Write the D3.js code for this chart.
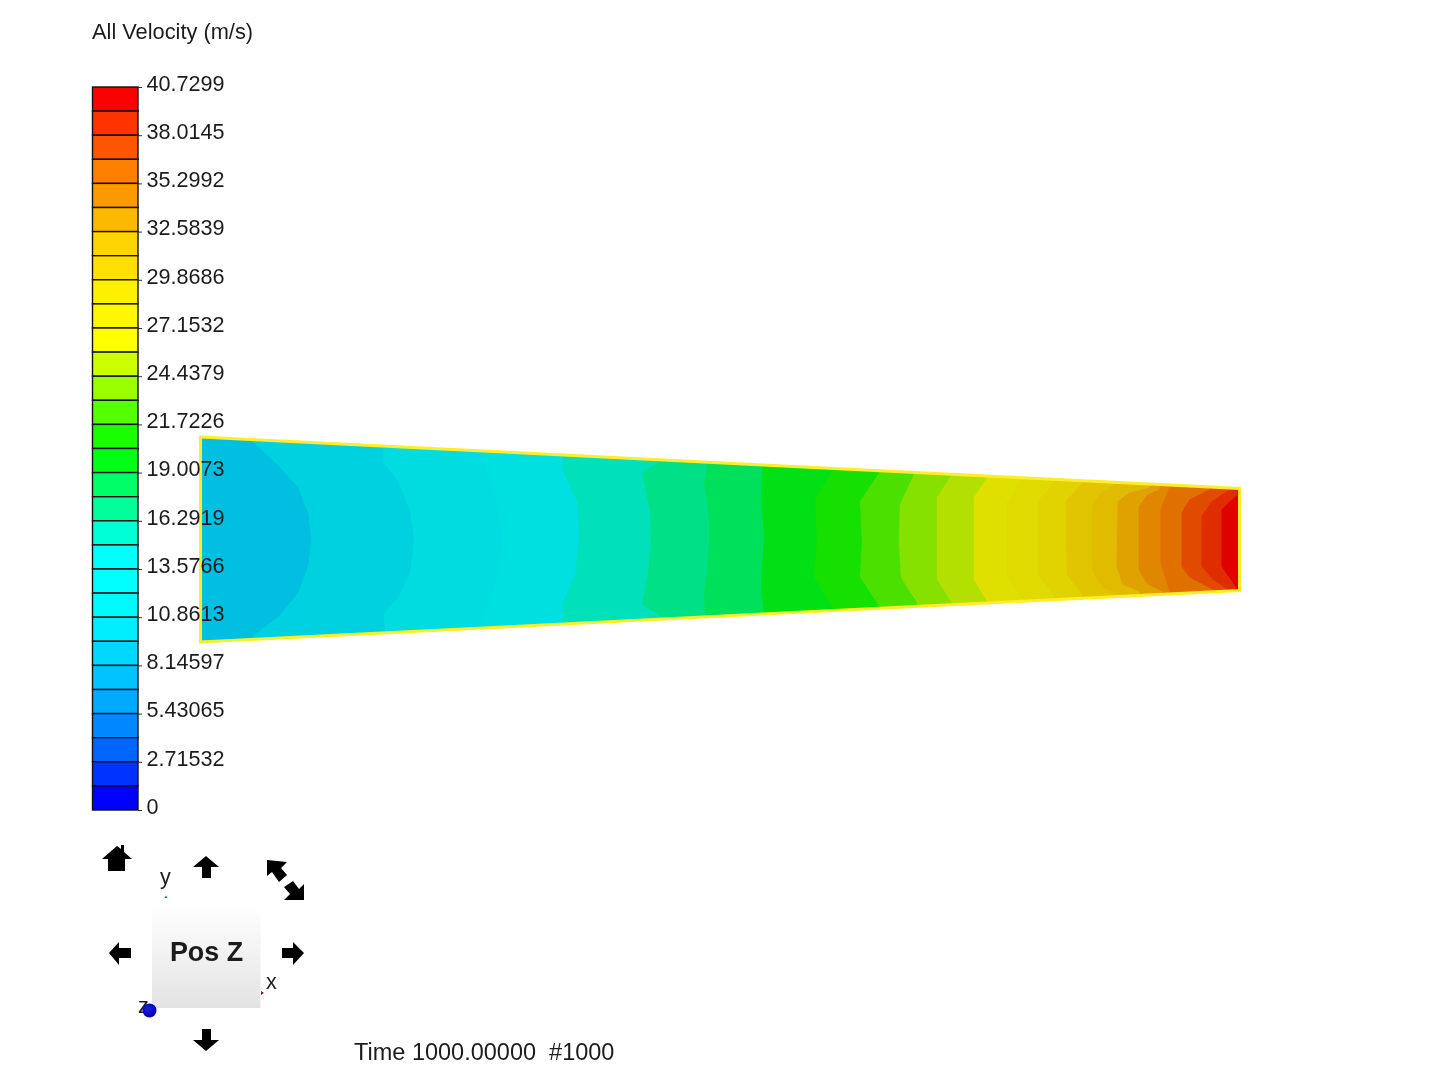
<!DOCTYPE html>
<html>
<head>
<meta charset="utf-8">
<style>
  html, body { margin: 0; padding: 0; background: #fff; }
  svg { display: block; filter: blur(0.4px); }
  text { font-family: "Liberation Sans", Arial, sans-serif; fill: #1c1c1c; }
</style>
<script src="https://cdn.jsdelivr.net/npm/d3@7"></script>
</head>
<body>
<svg id="chart" width="1440" height="1080" viewBox="0 0 1440 1080"></svg>
<script>
var TITLE = 'All Velocity (m/s)';
var TIME_LABEL = 'Time 1000.00000\u00a0\u00a0#1000';
var MAX_VELOCITY = 40.7299;

// tick labels, top to bottom
var tickLabels = ['40.7299', '38.0145', '35.2992', '32.5839', '29.8686', '27.1532', '24.4379', '21.7226',
  '19.0073', '16.2919', '13.5766', '10.8613', '8.14597', '5.43065', '2.71532', '0'];

// colour bar, top band first
var bandColors = ['#ff0000', '#ff3300', '#ff5500', '#ff8000', '#ff9900', '#ffb800', '#ffd500', '#ffe000',
  '#fff000', '#fff800', '#ffff00', '#ccff00', '#99ff00', '#55ff00', '#18ff00', '#00ff18',
  '#00ff66', '#00ff99', '#00ffd5', '#00ffff', '#00ffff', '#00fbff', '#00eeff', '#00d9ff',
  '#00c3ff', '#00aaff', '#0088ff', '#0066ff', '#0033ff', '#0000ff'];

// model outline (x along the duct, y across it)
var outline = [[0, 102.5], [1040, 51], [1040, -51], [0, -102.5]];

// which colour bar band fills each contour region, inlet to outlet
var regionBands = [23, 22, 21, 19, 18, 17, 16, 15, 14, 13, 12, 11, 10, 9, 8, 7, 6, 5, 4, 3, 2, 1, 0];

// contour lines between the regions, upper wall to lower wall
var contours = [
  [[52, 98], [77, 75], [98, 52], [108, 25], [111, 0], [108, -25], [98, -53], [78, -77], [52, -97]],
  [[183, 93], [183, 77], [198, 58], [210, 28], [214, 0], [210, -32], [198, -58], [183, -75], [185, -92]],
  [[280, 87], [295, 48], [302, 0], [295, -42], [280, -85]],
  [[362, 83], [363, 68], [377, 38], [379, 2], [375, -35], [363, -62], [363, -82]],
  [[458, 77], [442, 67], [450, 28], [451, -2], [448, -32], [442, -65], [462, -78]],
  [[508, 77], [504, 57], [509, 22], [509, -5], [507, -32], [504, -55], [505, -77]],
  [[563, 73], [561, 48], [564, 2], [561, -48], [564, -73]],
  [[633, 70], [615, 40], [617, -2], [614, -38], [633, -68]],
  [[680, 68], [660, 38], [662, -2], [660, -37], [680, -68]],
  [[715, 67], [700, 35], [699, -2], [701, -38], [717, -63]],
  [[752, 65], [737, 42], [737, -40], [752, -63]],
  [[788, 63], [774, 42], [774, -40], [788, -63]],
  [[822, 60], [807, 37], [807, -35], [822, -60]],
  [[855, 58], [838, 38], [838, -35], [855, -57]],
  [[882, 56], [866, 38], [867, -35], [882, -55]],
  [[917, 56], [903, 48], [893, 37], [893, -33], [903, -48], [918, -55]],
  [[950, 52], [930, 47], [918, 38], [917, -27], [923, -45], [940, -52]],
  [[960, 50], [948, 45], [939, 33], [939, -30], [948, -45], [963, -52]],
  [[970, 53], [961, 30], [961, -23], [970, -53]],
  [[1010, 50], [990, 40], [982, 27], [982, -27], [990, -38], [1017, -52]],
  [[1033, 52], [1012, 38], [1002, 23], [1002, -27], [1013, -40], [1028, -50]],
  [[1038, 45], [1022, 30], [1022, -27], [1038, -50]]
];

var svg = d3.select('#chart');
var defs = svg.append('defs');

// ---------- field ----------
var SHADE = 0.878;
var x = d3.scaleLinear().domain([0, 1040]).range([200.5, 1239.5]);
var y = d3.scaleLinear().domain([-102.5, 102.5]).range([642, 437]);
var line = d3.line().x(function (d) { return x(d[0]); }).y(function (d) { return y(d[1]); });
function shaded(hex) {
  var c = d3.rgb(hex);
  return d3.rgb(c.r * SHADE, c.g * SHADE, c.b * SHADE).formatHex();
}

defs.append('clipPath').attr('id', 'field-clip').append('path').attr('d', line(outline) + 'Z');
defs.append('filter').attr('id', 'soft').append('feGaussianBlur').attr('stdDeviation', 0.5);

var gField = svg.append('g').attr('clip-path', 'url(#field-clip)');
gField.append('path').attr('d', line(outline) + 'Z').attr('fill', shaded(bandColors[regionBands[0]]));
gField.selectAll('path.region').data(contours).join('path').attr('class', 'region')
  .attr('d', function (c) {
    var first = c[0], last = c[c.length - 1];
    return line(c.concat([[last[0], -200], [1100, -200], [1100, 200], [first[0], 200]])) + 'Z';
  })
  .attr('fill', function (c, i) { return shaded(bandColors[regionBands[i + 1]]); })
  .attr('stroke', 'none');
svg.append('path').attr('d', line(outline) + 'Z').attr('fill', 'none').attr('stroke', '#ffec2a')
  .attr('stroke-width', 3).attr('stroke-linejoin', 'miter').attr('filter', 'url(#soft)');

// ---------- colour bar ----------
var barX = 92.5, barW = 45.5;
var barY = d3.scaleLinear().domain([0, MAX_VELOCITY]).range([810, 87]);
var bandH = (barY(0) - barY(MAX_VELOCITY)) / bandColors.length;
var gBar = svg.append('g');
gBar.selectAll('rect').data(bandColors).join('rect')
  .attr('x', barX).attr('y', function (d, i) { return barY(MAX_VELOCITY) + i * bandH; })
  .attr('width', barW).attr('height', bandH)
  .attr('fill', function (d) { return d; }).attr('stroke', '#111').attr('stroke-width', 1.4);

var tickValues = tickLabels.map(Number);
var axis = d3.axisRight(barY).tickValues(tickValues).tickSize(4).tickPadding(4.5)
  .tickFormat(function (d, i) { return tickLabels[i]; });
var gAxis = svg.append('g').attr('transform', 'translate(' + (barX + barW) + ',0)').call(axis);
gAxis.select('.domain').remove();
gAxis.selectAll('line').attr('stroke', '#333').attr('stroke-width', 1);
gAxis.selectAll('text').attr('font-size', 21.6).attr('dy', 0).attr('y', 3.2).style('font-family', '"Liberation Sans", Arial, sans-serif').attr('fill', '#1c1c1c');

svg.append('text').attr('x', 92).attr('y', 39).attr('font-size', 21.8).text(TITLE);
svg.append('text').attr('x', 354).attr('y', 1060).attr('font-size', 23.5).text(TIME_LABEL);

// ---------- orientation widget ----------
var faceGrad = defs.append('linearGradient').attr('id', 'face').attr('x1', 0).attr('y1', 0).attr('x2', 0).attr('y2', 1);
faceGrad.append('stop').attr('offset', 0).attr('stop-color', '#ffffff');
faceGrad.append('stop').attr('offset', 1).attr('stop-color', '#e3e3e3');
svg.append('rect').attr('x', 152).attr('y', 905).attr('width', 108.5).attr('height', 103).attr('fill', 'url(#face)');
svg.append('text').attr('x', 206.5).attr('y', 961).attr('text-anchor', 'middle').attr('font-size', 26.9)
  .attr('font-weight', 700).attr('fill', '#262626').text('Pos Z');

var icons = [
  'M102,859 L117,846 L121,849 L121,845 L124,845 L124,852 L132,859 L125,859 L125,871 L108,871 L108,859 Z',
  'M193,867 L206,856 L219,867 L211,867 L211,878 L202,878 L202,867 Z',
  'M206,1051 L193,1040 L202,1040 L202,1029 L211,1029 L211,1040 L219,1040 Z',
  'M109,953 L119,942 L119,948 L131,948 L131,958 L119,958 L119,965 Z',
  'M304,953 L293,942 L293,948 L282,948 L282,958 L293,958 L293,965 Z',
  'M267,860 L287,862 L281,868 L287,875 L279,882 L272,872 L267,876 Z',
  'M304,900 L284,900 L290,894 L284,887 L293,881 L299,889 L304,884 Z'
];
svg.append('g').selectAll('path').data(icons).join('path').attr('d', function (d) { return d; }).attr('fill', '#000');

var blueGrad = defs.append('radialGradient').attr('id', 'ball').attr('cx', 0.4).attr('cy', 0.4).attr('r', 0.6);
blueGrad.append('stop').attr('offset', 0).attr('stop-color', '#1d1de0');
blueGrad.append('stop').attr('offset', 1).attr('stop-color', '#0000b0');

svg.append('text').attr('x', 160).attr('y', 884).attr('font-size', 21.6).text('y');
svg.append('text').attr('x', 266).attr('y', 989).attr('font-size', 21.6).text('x');
svg.append('text').attr('x', 138).attr('y', 1013).attr('font-size', 21.6).text('z');
svg.append('circle').attr('cx', 149.5).attr('cy', 1010.5).attr('r', 7).attr('fill', 'url(#ball)');
svg.append('path').attr('d', 'M164.5,898 L166,895.5 L167.5,898 Z').attr('fill', '#1f7a3a');
svg.append('path').attr('d', 'M261,991 L264,993 L261,995 Z').attr('fill', '#7a1f1f');
</script>
</body>
</html>
